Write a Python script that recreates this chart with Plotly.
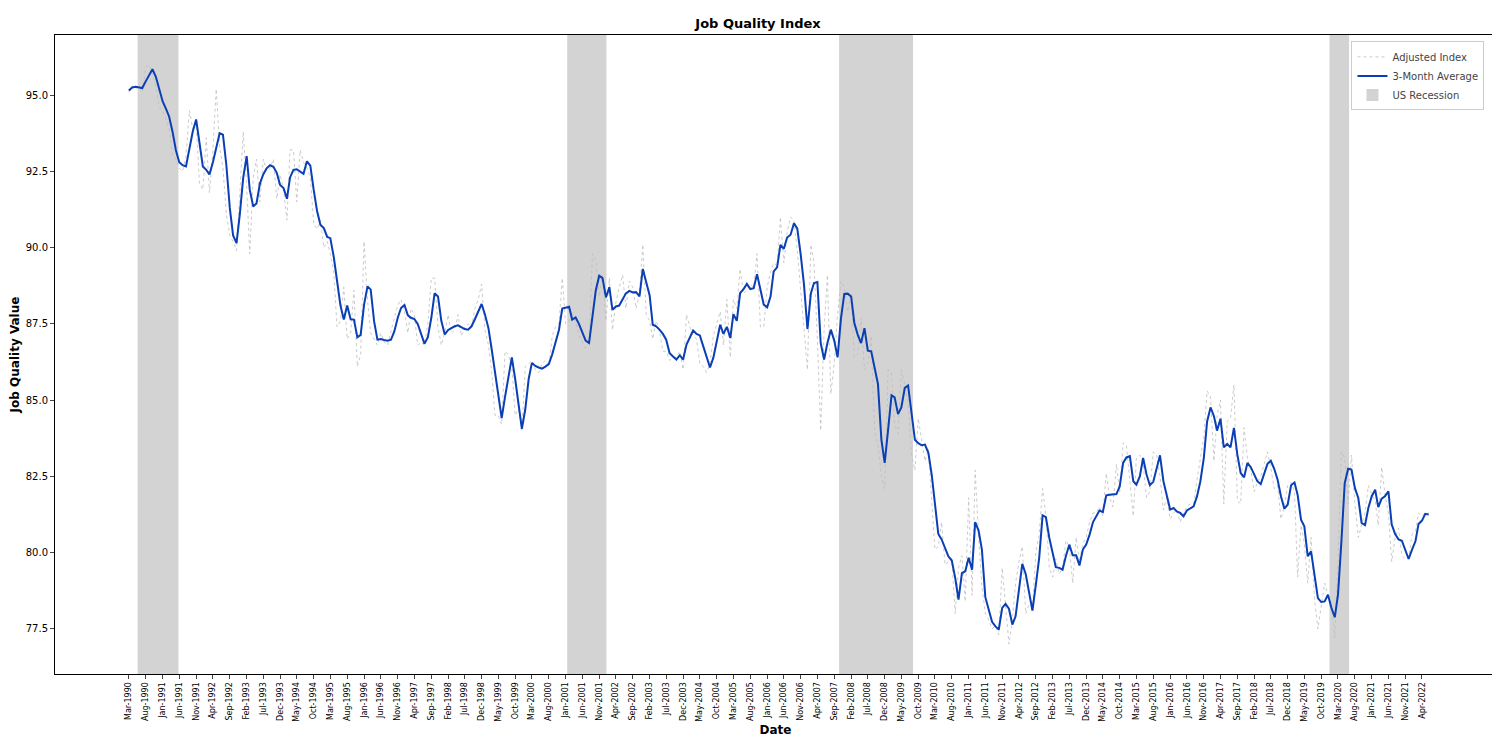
import pandas as pd
import plotly.graph_objects as go

# monthly values, Mar-1990 onward
avg_3m = [
    95.15, 95.25, 95.27, 95.25, 95.23, 95.45, 95.65, 95.85, 95.6, 95.2, 94.8, 94.55,
    94.3, 93.8, 93.2, 92.8, 92.7, 92.66, 93.2, 93.8, 94.2, 93.4, 92.66, 92.55,
    92.4, 92.8, 93.3, 93.75, 93.7, 92.7, 91.3, 90.4, 90.15, 91.1, 92.3, 93.0,
    91.9, 91.35, 91.45, 92.1, 92.4, 92.6, 92.7, 92.65, 92.45, 92.05, 91.95, 91.6,
    92.3, 92.55, 92.57, 92.5, 92.42, 92.83, 92.69, 91.9, 91.2, 90.75, 90.64, 90.35,
    90.31, 89.7, 88.9, 88.1, 87.64, 88.1, 87.65, 87.64, 87.06, 87.14, 88.13, 88.73,
    88.62, 87.58, 86.98, 87.0, 86.97, 86.95, 86.98, 87.25, 87.7, 88.02, 88.12, 87.78,
    87.7, 87.66, 87.5, 87.2, 86.85, 87.06, 87.69, 88.5, 88.4, 87.6, 87.15, 87.3,
    87.36, 87.42, 87.45, 87.4, 87.33, 87.31, 87.42, 87.65, 87.88, 88.15, 87.8, 87.36,
    86.7, 85.94, 85.2, 84.41, 85.1, 85.8, 86.4, 85.7, 84.8, 84.06, 84.7, 85.7,
    86.22, 86.12, 86.07, 86.03, 86.1, 86.18, 86.5, 86.9, 87.3, 88.0, 88.03, 88.06,
    87.64, 87.71, 87.5, 87.2, 86.95, 86.87, 87.8, 88.6, 89.08, 89.0, 88.37, 88.7,
    87.96, 88.07, 88.1, 88.3, 88.5, 88.58, 88.53, 88.54, 88.4, 89.3, 88.84, 88.43,
    87.47, 87.42, 87.31, 87.17, 86.98, 86.54, 86.43, 86.33, 86.47, 86.33, 86.82, 87.09,
    87.28, 87.17, 87.12, 86.76, 86.38, 86.07, 86.40, 86.93, 87.47, 87.17, 87.40, 87.04,
    87.82, 87.60, 88.51, 88.64, 88.81, 88.64, 88.67, 89.13, 88.62, 88.13, 88.04, 88.40,
    89.22, 89.35, 90.09, 89.96, 90.33, 90.42, 90.80, 90.62, 89.77, 88.78, 87.33, 88.5,
    88.84, 88.87, 86.87, 86.33, 86.87, 87.31, 86.95, 86.40, 87.69, 88.48, 88.49, 88.40,
    87.53, 87.14, 86.87, 87.36, 86.62, 86.60, 86.05, 85.53, 83.70, 82.94, 84.03, 85.16,
    85.09, 84.54, 84.76, 85.40, 85.48, 84.52, 83.70, 83.59, 83.52, 83.54, 83.27, 82.53,
    81.5, 80.61, 80.43, 80.15, 79.88, 79.74, 79.17, 78.46, 79.33, 79.39, 79.83, 79.44,
    81.0, 80.72, 80.10, 78.54, 78.13, 77.73, 77.58, 77.48, 78.19, 78.32, 78.16, 77.64,
    77.91, 78.84, 79.63, 79.30, 78.71, 78.10, 78.95, 79.82, 81.22, 81.16, 80.48, 79.93,
    79.52, 79.50, 79.44, 79.9, 80.26, 79.91, 79.91, 79.58, 80.1, 80.26, 80.59, 81.0,
    81.19, 81.38, 81.33, 81.88, 81.90, 81.91, 81.92, 82.17, 82.94, 83.12, 83.16, 82.34,
    82.23, 82.50, 83.10, 82.56, 82.21, 82.32, 82.77, 83.19, 82.34, 81.85, 81.41, 81.46,
    81.35, 81.30, 81.19, 81.38, 81.46, 81.52, 81.85, 82.34, 83.10, 84.30, 84.76, 84.47,
    84.0, 84.39, 83.45, 83.56, 83.45, 84.09, 83.21, 82.61, 82.47, 82.94, 82.80, 82.58,
    82.34, 82.25, 82.56, 82.91, 83.01, 82.75, 82.39, 81.85, 81.44, 81.57, 82.21, 82.30,
    81.9, 81.08, 80.86, 79.88, 80.04, 79.28, 78.51, 78.38, 78.40, 78.62, 78.19, 77.88,
    78.62, 80.37, 82.28, 82.75, 82.72, 82.12, 81.79, 80.97, 80.90, 81.46, 81.85, 82.06,
    81.49, 81.77, 81.85, 82.01, 80.92, 80.61, 80.43, 80.39, 80.10, 79.79, 80.10, 80.37,
    80.94, 81.05, 81.27, 81.25,
]

adj_index = [
    95.1, 95.3, 95.2, 95.3, 95.1, 95.9, 96.0, 95.7, 95.3, 94.6, 94.5, 94.2,
    93.9, 93.0, 92.9, 92.6, 92.5, 93.0, 94.5, 93.9, 94.1, 92.1, 91.9, 93.6,
    91.8, 93.2, 95.2, 93.3, 92.6, 91.1, 90.4, 90.2, 89.9, 91.8, 93.8, 92.0,
    89.8, 92.3, 92.9, 91.5, 92.9, 92.5, 92.6, 92.9, 91.6, 92.4, 91.9, 90.9,
    93.2, 93.2, 91.5, 93.2, 92.8, 92.6, 92.3, 90.8, 90.6, 90.9, 90.0, 90.2,
    89.8, 89.2, 87.4, 87.6, 88.7, 87.0, 87.2, 88.6, 86.1, 86.5, 90.2, 88.3,
    87.2, 87.0, 86.8, 87.2, 86.9, 86.8, 87.3, 87.7, 88.1, 88.3, 87.9, 87.2,
    88.0, 87.8, 86.8, 86.9, 86.8, 87.5, 89.0, 89.0, 87.4, 86.8, 87.2, 87.8,
    87.2, 87.3, 87.8, 87.1, 87.4, 87.5, 87.4, 88.0, 88.3, 88.8, 87.3, 86.8,
    86.0, 84.5, 84.5, 84.2, 86.6, 86.5, 86.1, 84.5, 84.7, 84.0, 86.1, 86.2,
    86.3, 86.0, 85.9, 86.2, 86.3, 86.1, 87.1, 87.4, 87.5, 89.0, 87.5, 87.6,
    87.9, 87.6, 87.1, 86.9, 86.7, 86.9, 89.8, 89.6, 88.4, 89.1, 87.6, 89.0,
    87.3, 88.2, 88.7, 89.1, 88.0, 88.9, 88.7, 88.0, 88.5, 90.1, 87.8, 87.6,
    87.0, 87.6, 87.3, 86.6, 86.6, 86.3, 86.4, 86.4, 86.6, 86.0, 87.8, 87.4,
    87.1, 87.0, 86.2, 86.1, 85.9, 86.2, 87.1, 87.5, 87.9, 86.8, 88.3, 86.4,
    88.3, 88.0, 89.3, 88.5, 88.6, 88.8, 88.7, 89.8, 87.4, 87.4, 88.7, 89.2,
    89.5, 89.4, 91.0, 89.5, 90.5, 91.0, 90.9, 89.9, 88.6, 87.3, 86.0, 90.1,
    89.5, 87.0, 84.0, 87.3, 89.1, 85.2, 86.2, 87.8, 88.9, 88.7, 87.9, 88.5,
    86.4, 86.5, 87.7, 86.0, 86.2, 87.1, 84.0, 83.5, 82.5, 82.1, 86.0, 85.9,
    84.2, 83.9, 86.0, 85.5, 84.9, 83.2, 82.7, 84.4, 83.6, 83.0, 83.4, 81.8,
    80.1, 80.2, 81.0, 79.6, 79.7, 79.8, 78.0, 79.5, 79.9, 78.4, 81.8, 78.6,
    82.7, 80.5, 78.9, 78.0, 77.8, 77.5, 77.6, 77.3, 79.5, 78.2, 77.0, 77.8,
    79.0, 79.7, 80.2, 78.0, 78.3, 78.2, 80.0, 80.6, 82.1, 81.2, 79.5, 79.2,
    79.8, 79.3, 79.5, 80.4, 80.2, 79.0, 80.5, 79.7, 80.3, 80.5, 81.0, 81.3,
    81.3, 81.5, 81.2, 82.6, 81.8, 81.5, 82.9, 82.0, 83.6, 83.5, 82.4, 81.2,
    83.1, 83.2, 82.9, 81.8, 82.0, 83.3, 83.2, 82.5, 81.4, 81.8, 81.1, 81.3,
    81.4, 81.0, 81.3, 81.5, 81.6, 81.6, 82.4, 83.1, 83.8, 85.3, 85.1, 83.0,
    84.5, 85.0, 81.6, 84.3, 84.4, 85.5, 81.7, 81.6, 84.1, 83.1, 82.7, 82.0,
    82.3, 82.5, 82.9, 83.3, 82.8, 82.1, 82.2, 81.1, 81.5, 82.2, 82.3, 82.0,
    79.2, 80.9, 80.3, 79.0, 80.5, 78.5, 77.5, 78.2, 79.0, 78.6, 78.3, 77.2,
    79.7, 83.3, 83.1, 81.6, 83.2, 81.6, 80.5, 80.9, 81.3, 82.2, 81.9, 81.7,
    80.9, 82.8, 81.9, 81.3, 79.7, 80.5, 80.8, 79.9, 79.8, 79.8, 80.6, 80.7,
    81.3, 81.2, 81.3, 81.3,
]

recessions = [("1990-05-20", "1991-05-25"), ("2001-01-15", "2002-01-05"),
              ("2007-10-15", "2009-08-15"), ("2019-12-15", "2020-06-10")]

dates = pd.date_range("1990-03-01", periods=len(avg_3m), freq="MS")
tick_dates = dates[::5]
tick_text = [d.strftime("%b-%Y") for d in tick_dates]

fig = go.Figure()
for start, end in recessions:
    fig.add_vrect(x0=start, x1=end, fillcolor="#d3d3d3", opacity=1, line_width=0, layer="below")

fig.add_trace(go.Scatter(x=dates, y=adj_index, mode="lines", name="Adjusted Index",
                         line=dict(color="#bdbdbd", width=0.8, dash="dot")))
fig.add_trace(go.Scatter(x=dates, y=avg_3m, mode="lines", name="3-Month Average",
                         line=dict(color="#0a3fb5", width=2)))
fig.add_trace(go.Scatter(x=[None], y=[None], mode="markers", name="US Recession",
                         marker=dict(symbol="square", size=12, color="#d3d3d3")))

fig.update_layout(
    width=1500, height=746,
    paper_bgcolor="white", plot_bgcolor="white",
    margin=dict(l=47, r=12, t=27, b=80, autoexpand=False),
    font=dict(family="DejaVu Sans", size=10, color="black"),
    title=dict(text="<b>Job Quality Index</b>", x=0.5, xanchor="center", y=0.985,
               font=dict(size=13)),
    legend=dict(x=0.992, y=0.99, xanchor="right", yanchor="top", bgcolor="white",
                bordercolor="#cccccc", borderwidth=1, font=dict(size=10, color="#444")),
    showlegend=True,
)
fig.update_xaxes(
    range=["1988-05-01", "2024-02-01"], tickmode="array", tickvals=tick_dates,
    ticktext=tick_text, tickangle=-90, tickfont=dict(size=8), ticks="outside",
    ticklen=4, showgrid=False, showline=True, linecolor="black", mirror=True,
    automargin=False,
    title=dict(text="<b>Date</b>", font=dict(size=12), standoff=4),
)
fig.update_yaxes(
    range=[76.02, 96.97], tickvals=[77.5, 80, 82.5, 85, 87.5, 90, 92.5, 95],
    tickformat=".1f", ticks="outside", ticklen=4, showgrid=False, showline=True,
    linecolor="black", mirror=True, zeroline=False, automargin=False,
    title=dict(text="<b>Job Quality Value</b>", font=dict(size=12), standoff=4),
)

fig.write_html("out.html")
